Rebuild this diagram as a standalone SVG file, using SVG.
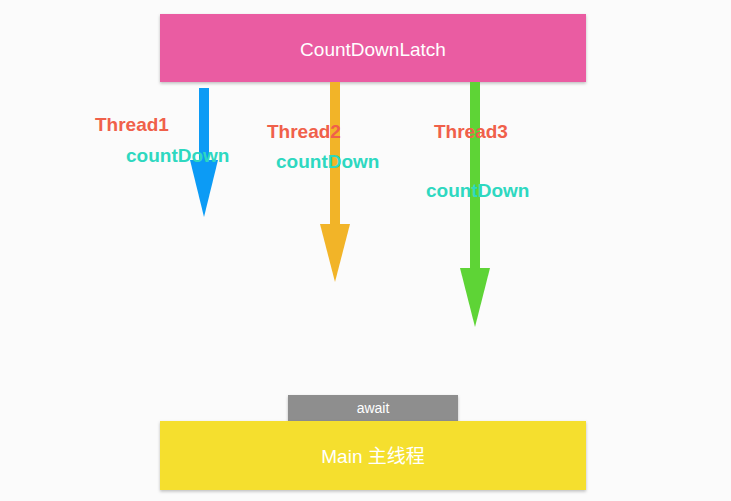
<svg xmlns="http://www.w3.org/2000/svg" width="731" height="501" viewBox="0 0 731 501">
<defs>
<style>
.t{font-family:"Liberation Sans","Noto Sans CJK SC",sans-serif;}
.lbl{font-family:"Liberation Sans",sans-serif;font-weight:bold;font-size:19px;}
.th{fill:#f0604a;}
.cd{fill:#2ed8c0;}
</style>
<filter id="sh" x="-5%" y="-10%" width="110%" height="130%"><feDropShadow dx="0" dy="1.5" stdDeviation="1.5" flood-color="#000" flood-opacity="0.25"/></filter>
</defs>
<rect width="731" height="501" fill="#fbfbfb"/>
<g id="latch"><rect x="160" y="14" width="426" height="68" fill="#ea5ca2" filter="url(#sh)"/>
<text class="t" x="373" y="56" font-size="19" fill="#fff" text-anchor="middle">CountDownLatch</text></g>
<g id="connectors">
<g id="a1"><rect x="199" y="88" width="10" height="74" fill="#0c9bf5"/><polygon points="190,160 218,160 204,217" fill="#0c9bf5"/></g>
<g id="a2"><rect x="330" y="82" width="10" height="144" fill="#f2b428"/><polygon points="320,224 350,224 335,282" fill="#f2b428"/></g>
<g id="a3"><rect x="470" y="82" width="10" height="188" fill="#5ed436"/><polygon points="460,268 490,268 475,327" fill="#5ed436"/></g>
</g>
<g id="labels">
<text class="lbl th" x="95" y="131">Thread1</text>
<text class="lbl cd" x="126" y="162">countDown</text>
<text class="lbl th" x="267" y="138">Thread2</text>
<text class="lbl cd" x="276" y="168">countDown</text>
<text class="lbl th" x="434" y="138">Thread3</text>
<text class="lbl cd" x="426" y="197">countDown</text>
</g>
<g id="await"><rect x="288" y="395" width="170" height="26" fill="#8e8e8e" filter="url(#sh)"/>
<text class="t" x="373" y="413" font-size="14" fill="#fff" text-anchor="middle">await</text></g>
<g id="main"><rect x="160" y="421" width="426" height="69" fill="#f5df2e" filter="url(#sh)"/>
<text class="t" x="373" y="463" font-size="19" fill="#fff" text-anchor="middle">Main 主线程</text></g>
</svg>
